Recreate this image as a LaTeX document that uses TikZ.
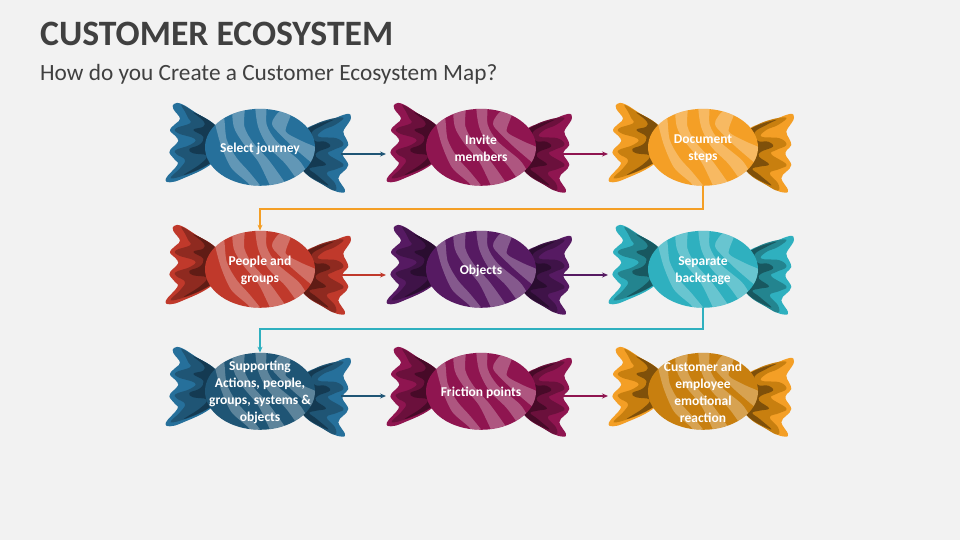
\documentclass[tikz,border=0pt]{standalone}
\usepackage{fontspec}
\setmainfont{Carlito}
\usetikzlibrary{shapes.geometric,arrows.meta}
\definecolor{bgc}{HTML}{F2F2F2}
\definecolor{inkc}{HTML}{404040}
\definecolor{blueA}{HTML}{26709B}\definecolor{blueB}{HTML}{1F5575}\definecolor{blueC}{HTML}{143A52}
\definecolor{crimA}{HTML}{8F1550}\definecolor{crimB}{HTML}{6B103C}\definecolor{crimC}{HTML}{470A28}
\definecolor{oranA}{HTML}{F49F26}\definecolor{oranB}{HTML}{C87F0F}\definecolor{oranC}{HTML}{7F500A}
\definecolor{redA}{HTML}{C0392B}\definecolor{redB}{HTML}{8F2A20}\definecolor{redC}{HTML}{601C15}
\definecolor{purpA}{HTML}{561A62}\definecolor{purpB}{HTML}{3F1348}\definecolor{purpC}{HTML}{2A0D30}
\definecolor{tealA}{HTML}{2FB0BF}\definecolor{tealB}{HTML}{23848F}\definecolor{tealC}{HTML}{185860}
\tikzset{
 candybody/.style={ellipse,inner sep=0pt,minimum width=110pt,minimum height=77pt},
 candytext/.style={inner sep=0pt,align=center,text=white,font=\bfseries\fontsize{13.5}{17}\selectfont},
 wrapunit/.style={x=0.3333pt,y=-0.3333pt},
 flowarrow/.style={line width=1.3pt,-{Stealth[length=6pt,width=5pt]}},
 titletext/.style={anchor=west,inner sep=0pt,text=inkc},
 stripe/.style={white,opacity=.28},
}
\newcommand{\wrapleftA}{(165,90)(110,55)(65,27)(42,27)(40,42)(60,70)(48,85)(30,105)(45,122)(55,138)(40,155)(28,172)(45,195)(52,210)(18,250)(30,262)(70,250)(150,210)(210,150)}
\newcommand{\wrapleftB}{(65,30)(100,50)(165,92)(210,150)(150,205)(90,235)(32,250)(60,220)(75,195)(50,178)(48,165)(90,150)(105,132)(55,115)(48,100)(90,85)(85,70)(75,50)}
\newcommand{\wrapleftC}{(100,52)(165,90)(210,150)(150,205)(72,240)(120,208)(140,182)(100,175)(88,162)(120,148)(130,125)(100,105)(130,95)(130,78)}
\newcommand{\wraprightA}{(440,100)(500,80)(560,57)(573,68)(565,85)(550,110)(558,130)(565,150)(552,165)(548,180)(565,210)(550,230)(535,250)(555,285)(545,293)(510,280)(430,225)(390,150)}
\newcommand{\wraprightB}{(390,150)(445,100)(500,75)(550,68)(525,90)(490,105)(475,125)(530,130)(550,150)(520,165)(505,178)(550,208)(530,222)(500,235)(525,265)(525,287)(490,270)(430,228)}
\newcommand{\wraprightC}{(390,150)(445,100)(520,74)(490,90)(455,112)(465,138)(495,140)(510,155)(475,170)(468,185)(498,208)(470,215)(448,222)(470,240)(505,272)(430,228)}
\newcommand{\candystripes}{%
 \fill[stripe] plot[smooth cycle,tension=.5] coordinates {(160,60)(190,60)(200,134)(230,189)(270,234)(312,290)(282,290)(264,264)(214,219)(184,154)(167,94)};
 \fill[stripe] plot[smooth cycle,tension=.5] coordinates {(219,25)(253,25)(253,94)(280,144)(325,194)(370,256)(388,285)(342,290)(329,269)(294,199)(249,144)(221,94)};
 \fill[stripe] plot[smooth cycle,tension=.5] coordinates {(287,25)(318,25)(320,89)(350,139)(415,194)(438,226)(453,240)(422,270)(404,244)(374,204)(324,154)(294,94)};
 \fill[stripe] plot[smooth cycle,tension=.4] coordinates {(337,79)(358,50)(395,50)(377,109)(427,139)(480,165)(480,215)(462,209)(397,154)(342,99)};
}
% name, cx, cy, arrow dy, base, mid, dark, body, text
\newcommand{\candy}[9]{%
 \begin{scope}[shift={(#2,#3)}]
  \coordinate (#1-r) at (81,#4);
  \coordinate (#1-l) at (-95,#4);
  \begin{scope}[wrapunit,shift={(-300,-157)}]
   \foreach \parts/\pc in {\wrapleftA/#5,\wrapleftB/#6,\wrapleftC/#7,\wraprightA/#5,\wraprightB/#6,\wraprightC/#7}{
     \edef\temp{\noexpand\fill[\pc] plot[smooth cycle,tension=.7] coordinates {\parts};}\temp
   }
  \end{scope}
  \node[candybody,fill=#8] (#1) at (0,0) {};
  \begin{scope}[wrapunit,shift={(-300,-157)}]
   \clip (300,157) ellipse [x radius=165,y radius=115];
   \candystripes
  \end{scope}
  \node[candytext] (#1-t) at ([yshift=-1.5pt]#1.center) {#9};
 \end{scope}}
\begin{document}
\begin{tikzpicture}[x=1pt,y=-1pt]
\useasboundingbox (0,0) rectangle (960,540);
\fill[bgc] (0,0) rectangle (960,540);
\node[titletext,font=\bfseries\fontsize{35.7}{40}\selectfont] (title) at (40,34) {CUSTOMER ECOSYSTEM};
\node[titletext,font=\fontsize{23.3}{28}\selectfont] (subtitle) at (40,74) {How do you Create a Customer Ecosystem Map?};

\candy{a}{260}{147.3}{6.7}{blueA}{blueB}{blueC}{blueA}{Select journey}
\candy{b}{481}{147.3}{6.7}{crimA}{crimB}{crimC}{crimA}{Invite\\members}
\candy{c}{703}{147.3}{6.7}{oranA}{oranB}{oranC}{oranA}{Document\\steps}
\candy{d}{260}{269.3}{5.7}{redA}{redB}{redC}{redA}{People and\\groups}
\candy{e}{481}{269.3}{5.7}{purpA}{purpB}{purpC}{purpA}{Objects}
\candy{f}{703}{269.3}{5.7}{tealA}{tealB}{tealC}{tealA}{Separate\\backstage}
\candy{g}{260}{391.3}{4.7}{blueA}{blueB}{blueC}{blueB}{Supporting\\Actions, people,\\groups, systems \&\\objects}
\candy{h}{481}{391.3}{4.7}{crimA}{crimB}{crimC}{crimA}{Friction points}
\candy{i}{703}{391.3}{4.7}{oranA}{oranB}{oranC}{oranB}{Customer and\\employee\\emotional\\reaction}

\draw[flowarrow,blueB] (a-r) -- (b-l);
\draw[flowarrow,crimA] (b-r) -- (c-l);
\draw[flowarrow,redA] (d-r) -- (e-l);
\draw[flowarrow,purpA] (e-r) -- (f-l);
\draw[flowarrow,blueB] (g-r) -- (h-l);
\draw[flowarrow,crimA] (h-r) -- (i-l);
\draw[flowarrow,oranA] (c.south) -- ++(0,23) -| (d.north);
\draw[flowarrow,tealA] (f.south) -- ++(0,21) -| (g.north);
\end{tikzpicture}
\end{document}
